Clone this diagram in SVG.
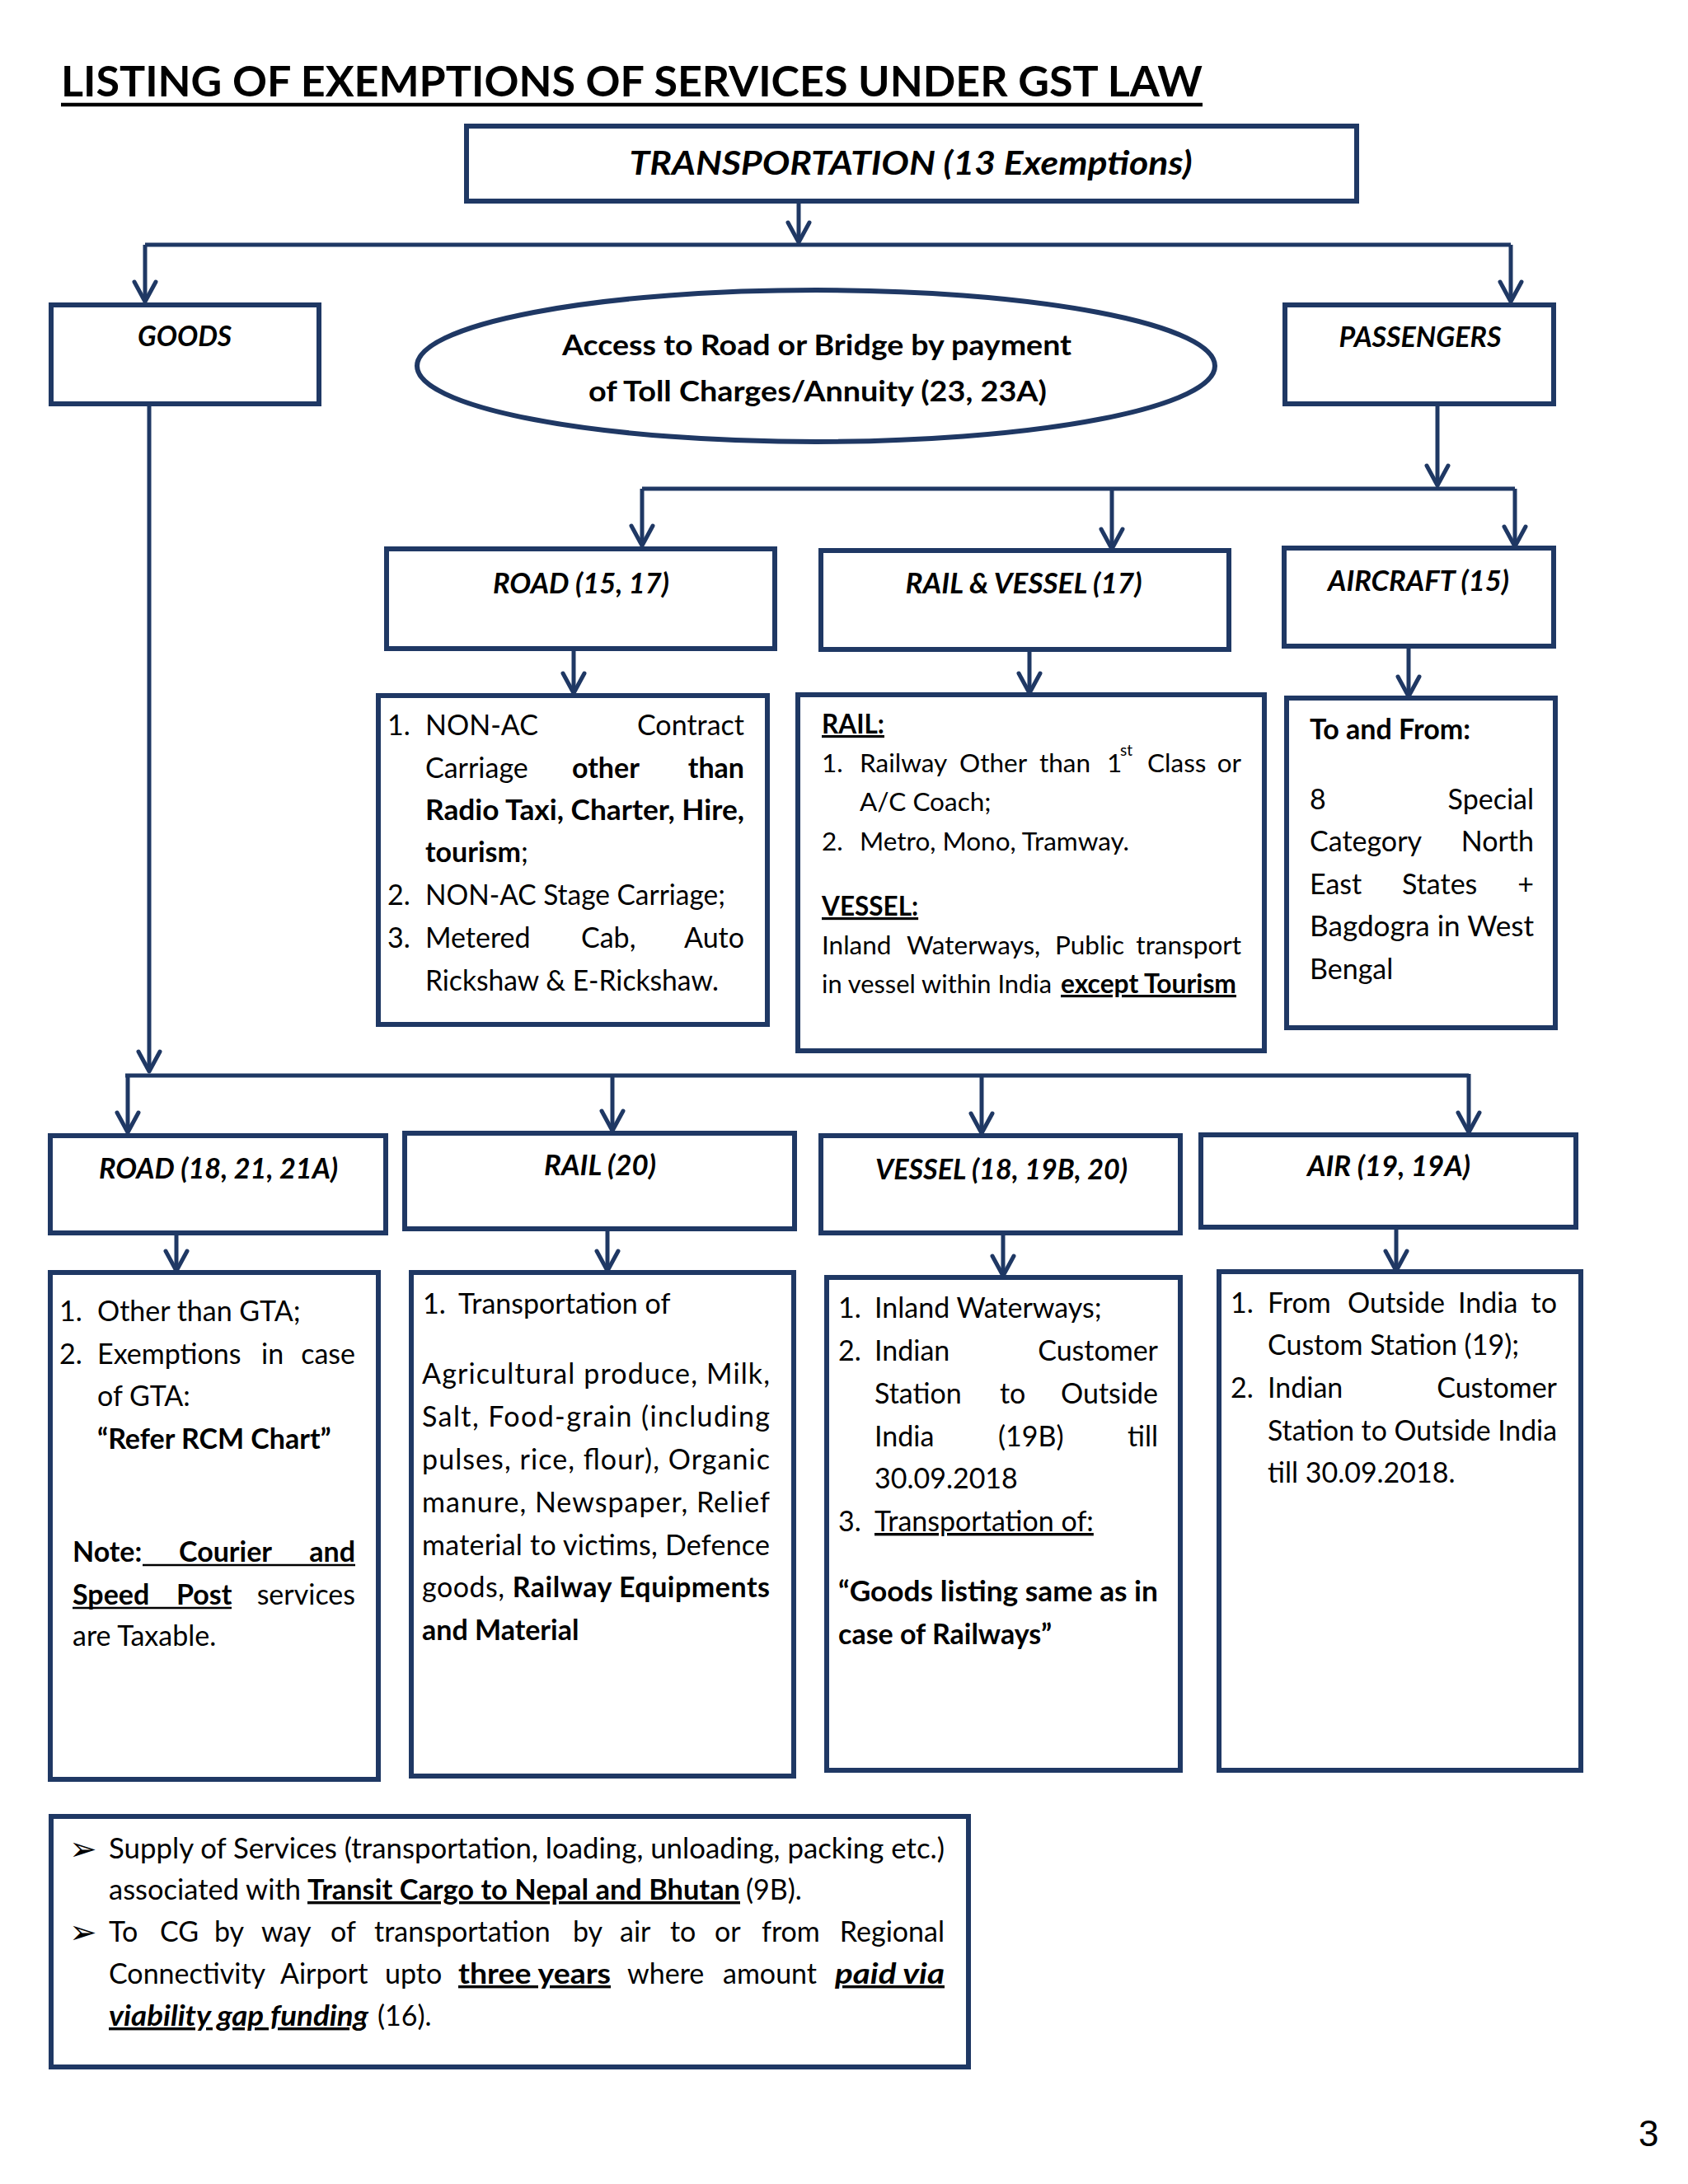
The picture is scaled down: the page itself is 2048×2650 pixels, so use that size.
<svg xmlns="http://www.w3.org/2000/svg" width="2048" height="2650" viewBox="0 0 2048 2650">
<style>
.box{fill:#fff;stroke:#1f3864;stroke-width:6}
.ln{fill:none;stroke:#1f3864;stroke-width:5}
.ar{marker-end:url(#ah)}
text{font-family:Lato,"Noto Sans",sans-serif;fill:#000}
.hd{font-weight:bold;font-style:italic;font-size:34px;text-anchor:middle}
.s{font-size:34px}
.r{font-size:31.5px}
.f{font-size:34px}
.b{font-weight:bold}
.i{font-style:italic}
.u{text-decoration:underline}
.e{text-anchor:end}
.bul{font-family:"DejaVu Sans",sans-serif;font-size:40px}
</style>
<defs>
<marker id="ah" viewBox="-30 -18 36 36" refX="0" refY="0" markerWidth="36" markerHeight="36" markerUnits="userSpaceOnUse" orient="auto">
<path d="M-24,-13 L0,0 L-24,13" fill="none" stroke="#1f3864" stroke-width="5" stroke-linecap="round" stroke-linejoin="round"/>
</marker>
</defs>
<rect width="2048" height="2650" fill="#fff"/>

<g id="title">
<text x="74" y="117" font-size="51" font-weight="bold" textLength="1385" lengthAdjust="spacingAndGlyphs">LISTING OF EXEMPTIONS OF SERVICES UNDER GST LAW</text>
<line x1="74" y1="127" x2="1459" y2="127" stroke="#000" stroke-width="4.5"/>
</g>

<g id="connectors">
<path class="ln ar" d="M969,247 V294"/>
<path class="ln" d="M176,297 H1833"/>
<path class="ln ar" d="M176,297 V366"/>
<path class="ln ar" d="M1833,297 V366"/>
<path class="ln ar" d="M181,492 V1300"/>
<path class="ln ar" d="M1744,490 V589"/>
<path class="ln" d="M779,593 H1838"/>
<path class="ln ar" d="M779,593 V662"/>
<path class="ln ar" d="M1349,593 V666"/>
<path class="ln ar" d="M1838,593 V663"/>
<path class="ln ar" d="M696,787 V841"/>
<path class="ln ar" d="M1249,789 V841"/>
<path class="ln ar" d="M1709,785 V845"/>
<path class="ln" d="M152,1305 H1782"/>
<path class="ln ar" d="M155,1303 V1374"/>
<path class="ln ar" d="M743,1305 V1372"/>
<path class="ln ar" d="M1191,1305 V1375"/>
<path class="ln ar" d="M1782,1303 V1374"/>
<path class="ln ar" d="M214,1496 V1542"/>
<path class="ln ar" d="M737,1491 V1542"/>
<path class="ln ar" d="M1217,1496 V1548"/>
<path class="ln ar" d="M1694,1489 V1542"/>
</g>

<g id="transportation">
<rect class="box" x="566" y="153" width="1080" height="91"/>
<text class="hd" x="1105" y="212" style="font-size:40px" textLength="683" lengthAdjust="spacingAndGlyphs">TRANSPORTATION (13 Exemptions)</text>
</g>

<g id="goods">
<rect class="box" x="62" y="370" width="325" height="120"/>
<text class="hd" x="224" y="420" textLength="114" lengthAdjust="spacingAndGlyphs">GOODS</text>
</g>

<g id="toll">
<ellipse class="box" cx="990" cy="444" rx="484" ry="92"/>
<text class="b" x="991" y="431" font-size="35" text-anchor="middle" textLength="618" lengthAdjust="spacingAndGlyphs">Access to Road or Bridge by payment</text>
<text class="b" x="992" y="487" font-size="35" text-anchor="middle" textLength="556" lengthAdjust="spacingAndGlyphs">of Toll Charges/Annuity (23, 23A)</text>
</g>

<g id="passengers">
<rect class="box" x="1559" y="370" width="326" height="120"/>
<text class="hd" x="1723" y="421" textLength="197" lengthAdjust="spacingAndGlyphs">PASSENGERS</text>
</g>

<g id="road-passenger">
<rect class="box" x="469" y="666" width="471" height="121"/>
<text class="hd" x="705" y="720" textLength="214" lengthAdjust="spacingAndGlyphs">ROAD (15, 17)</text>
</g>

<g id="rail-vessel-passenger">
<rect class="box" x="996" y="668" width="495" height="120"/>
<text class="hd" x="1242" y="720" textLength="287" lengthAdjust="spacingAndGlyphs">RAIL &amp; VESSEL (17)</text>
</g>

<g id="aircraft">
<rect class="box" x="1558" y="665" width="327" height="119"/>
<text class="hd" x="1721" y="717" textLength="220" lengthAdjust="spacingAndGlyphs">AIRCRAFT (15)</text>
</g>

<g id="road-passenger-list">
<rect class="box" x="459" y="844" width="472" height="399"/>
<text class="s" x="470" y="892">1.</text>
<text class="s" x="516" y="892">NON-AC</text>
<text class="s e" x="903" y="892">Contract</text>
<text class="s" x="516" y="944">Carriage</text>
<text class="s b" x="694" y="944">other</text>
<text class="s b e" x="903" y="944">than</text>
<text class="s b" x="516" y="995" textLength="387" lengthAdjust="spacingAndGlyphs">Radio Taxi, Charter, Hire,</text>
<text class="s" x="516" y="1046"><tspan class="b">tourism</tspan>;</text>
<text class="s" x="470" y="1098">2.</text>
<text class="s" x="516" y="1098" textLength="364" lengthAdjust="spacingAndGlyphs">NON-AC  Stage Carriage;</text>
<text class="s" x="470" y="1150">3.</text>
<text class="s" x="516" y="1150">Metered</text>
<text class="s" x="705" y="1150">Cab,</text>
<text class="s e" x="903" y="1150">Auto</text>
<text class="s" x="516" y="1202" textLength="356" lengthAdjust="spacingAndGlyphs">Rickshaw &amp; E-Rickshaw.</text>
</g>

<g id="rail-vessel-list">
<rect class="box" x="968" y="843" width="566" height="432"/>
<text class="r b u" x="997" y="890">RAIL:</text>
<text class="r" x="997" y="937">1.</text>
<text class="r" x="1043" y="937">Railway</text>
<text class="r" x="1164" y="937">Other</text>
<text class="r" x="1261" y="937">than</text>
<text class="r" x="1343" y="937">1</text>
<text x="1359" y="917" font-size="19">st</text>
<text class="r" x="1392" y="937">Class</text>
<text class="r e" x="1506" y="937">or</text>
<text class="r" x="1043" y="984">A/C Coach;</text>
<text class="r" x="997" y="1032">2.</text>
<text class="r" x="1043" y="1032">Metro, Mono, Tramway.</text>
<text class="r b u" x="997" y="1111">VESSEL:</text>
<text class="r" x="997" y="1158">Inland</text>
<text class="r" x="1100" y="1158">Waterways,</text>
<text class="r" x="1280" y="1158">Public</text>
<text class="r e" x="1506" y="1158">transport</text>
<text class="r" x="997" y="1205" textLength="279" lengthAdjust="spacingAndGlyphs">in vessel within India</text>
<text class="r b u" x="1287" y="1205" textLength="213" lengthAdjust="spacingAndGlyphs">except Tourism</text>
</g>

<g id="aircraft-list">
<rect class="box" x="1561" y="847" width="326" height="400"/>
<text class="s b" x="1589" y="897">To and From:</text>
<text class="s" x="1589" y="982">8</text>
<text class="s e" x="1861" y="982">Special</text>
<text class="s" x="1589" y="1033">Category</text>
<text class="s e" x="1861" y="1033">North</text>
<text class="s" x="1589" y="1085">East</text>
<text class="s" x="1701" y="1085">States</text>
<text class="s e" x="1861" y="1085">+</text>
<text class="s" x="1589" y="1136" textLength="272" lengthAdjust="spacingAndGlyphs">Bagdogra in West</text>
<text class="s" x="1589" y="1188">Bengal</text>
</g>

<g id="road-goods">
<rect class="box" x="61" y="1378" width="407" height="118"/>
<text class="hd" x="265" y="1430" textLength="290" lengthAdjust="spacingAndGlyphs">ROAD (18, 21, 21A)</text>
</g>

<g id="rail-goods">
<rect class="box" x="491" y="1375" width="473" height="116"/>
<text class="hd" x="728" y="1426" textLength="136" lengthAdjust="spacingAndGlyphs">RAIL (20)</text>
</g>

<g id="vessel-goods">
<rect class="box" x="996" y="1378" width="436" height="118"/>
<text class="hd" x="1215" y="1431" textLength="306" lengthAdjust="spacingAndGlyphs">VESSEL (18, 19B, 20)</text>
</g>

<g id="air-goods">
<rect class="box" x="1457" y="1377" width="455" height="112"/>
<text class="hd" x="1685" y="1427" textLength="198" lengthAdjust="spacingAndGlyphs">AIR (19, 19A)</text>
</g>

<g id="road-goods-list">
<rect class="box" x="61" y="1544" width="398" height="615"/>
<text class="s" x="72" y="1603">1.</text>
<text class="s" x="118" y="1603">Other than GTA;</text>
<text class="s" x="72" y="1655">2.</text>
<text class="s" x="118" y="1655">Exemptions</text>
<text class="s" x="317" y="1655">in</text>
<text class="s e" x="431" y="1655">case</text>
<text class="s" x="118" y="1706">of GTA:</text>
<text class="s b" x="118" y="1758">“Refer RCM Chart”</text>
<text class="s b" x="88" y="1895">Note:</text>
<text class="s b" x="217" y="1895">Courier</text>
<text class="s b e" x="431" y="1895">and</text>
<line x1="173" y1="1899" x2="431" y2="1899" stroke="#000" stroke-width="2.5"/>
<text class="s b" x="88" y="1947">Speed</text>
<text class="s b" x="214" y="1947">Post</text>
<line x1="88" y1="1951" x2="281" y2="1951" stroke="#000" stroke-width="2.5"/>
<text class="s e" x="431" y="1947">services</text>
<text class="s" x="88" y="1997">are Taxable.</text>
</g>

<g id="rail-goods-list">
<rect class="box" x="499" y="1544" width="464" height="611"/>
<text class="s" x="513" y="1594">1.</text>
<text class="s" x="556" y="1594">Transportation of</text>
<text class="s" x="512" y="1679" textLength="422">Agricultural produce, Milk,</text>
<text class="s" x="512" y="1731" textLength="422">Salt, Food-grain (including</text>
<text class="s" x="512" y="1783" textLength="422">pulses, rice, flour), Organic</text>
<text class="s" x="512" y="1835" textLength="422">manure, Newspaper, Relief</text>
<text class="s" x="512" y="1887" textLength="422">material to victims, Defence</text>
<text class="s" x="512" y="1938" textLength="422">goods, <tspan class="b">Railway Equipments</tspan></text>
<text class="s b" x="512" y="1990">and Material</text>
</g>

<g id="vessel-goods-list">
<rect class="box" x="1003" y="1550" width="429" height="598"/>
<text class="s" x="1017" y="1599">1.</text>
<text class="s" x="1061" y="1599">Inland Waterways;</text>
<text class="s" x="1017" y="1651">2.</text>
<text class="s" x="1061" y="1651">Indian</text>
<text class="s e" x="1405" y="1651">Customer</text>
<text class="s" x="1061" y="1703">Station</text>
<text class="s" x="1213" y="1703">to</text>
<text class="s e" x="1405" y="1703">Outside</text>
<text class="s" x="1061" y="1755">India</text>
<text class="s" x="1211" y="1755">(19B)</text>
<text class="s e" x="1405" y="1755">till</text>
<text class="s" x="1061" y="1806">30.09.2018</text>
<text class="s" x="1017" y="1858">3.</text>
<text class="s u" x="1061" y="1858">Transportation of:</text>
<text class="s b" x="1017" y="1943" textLength="388" lengthAdjust="spacingAndGlyphs">“Goods listing same as in</text>
<text class="s b" x="1017" y="1995">case of Railways”</text>
</g>

<g id="air-goods-list">
<rect class="box" x="1479" y="1543" width="439" height="605"/>
<text class="s" x="1493" y="1593">1.</text>
<text class="s" x="1538" y="1593">From</text>
<text class="s" x="1635" y="1593">Outside</text>
<text class="s" x="1769" y="1593">India</text>
<text class="s e" x="1889" y="1593">to</text>
<text class="s" x="1538" y="1644">Custom Station (19);</text>
<text class="s" x="1493" y="1696">2.</text>
<text class="s" x="1538" y="1696">Indian</text>
<text class="s e" x="1889" y="1696">Customer</text>
<text class="s" x="1538" y="1748" textLength="351" lengthAdjust="spacingAndGlyphs">Station to Outside India</text>
<text class="s" x="1538" y="1799">till 30.09.2018.</text>
</g>

<g id="other-exemptions">
<rect class="box" x="62" y="2204" width="1113" height="304"/>
<text class="bul" x="84" y="2257">➢</text>
<text class="f" x="132" y="2255" textLength="1014" lengthAdjust="spacingAndGlyphs">Supply of Services (transportation, loading, unloading, packing etc.)</text>
<text class="f" x="132" y="2305" textLength="233" lengthAdjust="spacingAndGlyphs">associated with</text>
<text class="f b u" x="373" y="2305" textLength="525" lengthAdjust="spacingAndGlyphs">Transit Cargo to Nepal and Bhutan</text>
<text class="f" x="905" y="2305">(9B).</text>
<text class="bul" x="84" y="2358">➢</text>
<text class="f" y="2356"><tspan x="132">To</tspan><tspan x="194">CG</tspan><tspan x="260">by</tspan><tspan x="317">way</tspan><tspan x="401">of</tspan><tspan x="454">transportation</tspan><tspan x="695">by</tspan><tspan x="752">air</tspan><tspan x="813">to</tspan><tspan x="867">or</tspan><tspan x="924">from</tspan></text>
<text class="f e" x="1146" y="2356">Regional</text>
<text class="f" y="2407"><tspan x="132">Connectivity</tspan><tspan x="340">Airport</tspan><tspan x="467">upto</tspan></text>
<text class="f b u" x="556" y="2407" textLength="185" lengthAdjust="spacingAndGlyphs">three years</text>
<text class="f" y="2407"><tspan x="761">where</tspan><tspan x="877">amount</tspan></text>
<text class="f b i u" x="1013" y="2407" textLength="133" lengthAdjust="spacingAndGlyphs">paid via</text>
<text class="f b i u" x="132" y="2458" textLength="315" lengthAdjust="spacingAndGlyphs">viability gap funding</text>
<text class="f" x="458" y="2458">(16).</text>
</g>

<g id="page-number">
<text x="1988" y="2604" font-size="44" style="font-family:'Liberation Sans',Arial,sans-serif">3</text>
</g>
</svg>
